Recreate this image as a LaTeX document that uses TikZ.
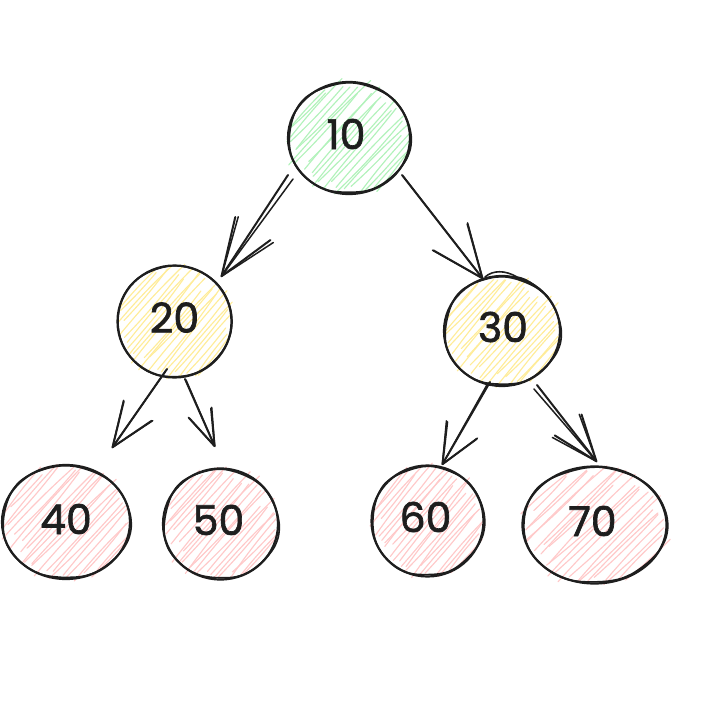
\documentclass[tikz,border=0pt]{standalone}
\usepackage{fontspec}
\setmainfont{Poppins}[FakeBold=1.6]
\usetikzlibrary{arrows.meta,shapes.geometric}
\definecolor{ink}{HTML}{1E1E1E}
\definecolor{mint}{HTML}{B2F2BB}
\definecolor{butter}{HTML}{FFEC99}
\definecolor{blush}{HTML}{FFC9C9}
\tikzset{
  bubble/.style={ellipse,draw=ink,line width=2.2pt,inner sep=0pt},
  inkline/.style={draw=ink,line width=1.6pt,line cap=round,line join=round},
  numeral/.style={font=\fontsize{41}{41}\selectfont,text=ink},
  hatch/.style={line width=1.15pt,line cap=round},
  link/.style={draw=ink,line width=2pt,line cap=round}
}
% name, cx, cy, rx, ry, colour, text, text dx, text dy
\newcommand\sketchnode[9]{%
  \pgfmathsetseed{#2*7}%
  \begin{scope}[shift={(#2,#3)},x=#4pt,y=-#5pt]
    \foreach \k in {-0.88,-0.72,...,0.92}{
      \pgfmathsetmacro\h{sqrt(1-\k*\k)}
      \pgfmathsetmacro\sa{-\h*(0.86+0.24*rnd)}
      \pgfmathsetmacro\sb{\h*(0.84+0.28*rnd)}
      \pgfmathsetmacro\sc{-\h*(0.70+0.32*rnd)}
      \pgfmathsetmacro\sd{\h*(0.70+0.34*rnd)}
      \pgfmathsetmacro\ja{0.05*rand}
      \pgfmathsetmacro\jb{0.05*rand}
      \pgfmathsetmacro\jc{0.04+0.05*rand}
      \pgfmathsetmacro\jd{0.04+0.05*rand}
      \draw[hatch,#6] ({(\k+\ja)*0.766+\sa*0.643},{(\k+\ja)*0.643-\sa*0.766}) to[bend left=3] ({(\k+\jb)*0.766+\sb*0.643},{(\k+\jb)*0.643-\sb*0.766});
      \draw[hatch,#6] ({(\k+\jc)*0.766+\sc*0.643},{(\k+\jc)*0.643-\sc*0.766}) to[bend right=3] ({(\k+\jd)*0.766+\sd*0.643},{(\k+\jd)*0.643-\sd*0.766});
    }
  \end{scope}
  \node[bubble,minimum width=#4*2pt,minimum height=#5*2pt,
        label={[numeral,xshift=#8pt,yshift=#9pt]center:#7}] (#1) at (#2,#3) {};
}
% cx, cy, rx, ry, phase, wobble
\newcommand\sketchstroke[6]{%
  \draw[inkline] plot[smooth,domain=#5:#5+385,samples=36,variable=\t]
    ({#1+#3*(1+#6*sin(3*\t+#5)+0.4*#6*sin(5*\t))*cos(\t)},
     {#2+#4*(1+#6*sin(2*\t+#5)+0.4*#6*sin(7*\t))*sin(\t)});
}
% from, to, start 1, start 2, tip, tip length, tip width
\newcommand\sketchedge[7]{%
  \pgfmathsetmacro\lenb{#6+1}%
  \pgfmathsetmacro\widb{#7+1.5}%
  \draw[link,-{Straight Barb[length=#6pt,width=#7pt,round]}]
    ([shift={(#3)}]#1.center) -- ([shift={(#5)}]#2.center);
  \draw[link,line width=1.5pt,-{Straight Barb[length=\lenb pt,width=\widb pt,round]}]
    ([shift={(#4)}]#1.center) -- ([shift={(#5)}]#2.center);
}
\begin{document}
\begin{tikzpicture}[x=1pt,y=-1pt]
  \useasboundingbox (0,0) rectangle (718,712);
  \sketchnode{n10}{349}{138}{61}{56}{mint}{10}{-3}{4}
  \sketchstroke{349}{138}{61}{56}{95}{0.022}
  \sketchnode{n20}{174.5}{321.5}{57}{56}{butter}{20}{0}{4}
  \sketchstroke{174.5}{321.5}{57}{56}{130}{0.012}
  \sketchnode{n30}{502}{331}{58}{55}{butter}{30}{1}{4}
  \sketchstroke{502}{331}{58}{55}{75}{0.024}
  \draw[inkline] (n30.center) ++(-17,-54) .. controls +(8,-7) and +(-12,-7) .. ++(32,0) .. controls +(12,2) and +(-10,-9) .. ++(31,20);
  \sketchnode{n40}{66}{522}{64}{57}{blush}{40}{0}{3}
  \sketchstroke{66}{522}{64}{57}{80}{0.02}
  \sketchnode{n50}{220.5}{524}{57.5}{55.5}{blush}{50}{-2}{4}
  \sketchstroke{220.5}{524}{57.5}{55.5}{65}{0.024}
  \sketchnode{n60}{427.5}{521}{56}{55.5}{blush}{60}{-2}{4}
  \sketchstroke{427.5}{521}{56}{55.5}{110}{0.026}
  \sketchnode{n70}{594.5}{525}{72}{58.5}{blush}{70}{-2}{4}
  \sketchstroke{594.5}{525}{72}{58.5}{120}{0.022}
  \sketchedge{n10}{n20}{-61,37}{-56,41}{46.5,-44.5}{57}{42}
  \sketchedge{n10}{n30}{53,37}{54,38}{-19,-52}{52}{43}
  \sketchedge{n20}{n40}{-7.5,47.5}{-9.5,50.5}{46,-74}{44}{34}
  \sketchedge{n20}{n50}{10.5,57.5}{11.5,58.5}{-5.5,-77}{36}{24}
  \sketchedge{n30}{n60}{-12,51}{-14,52}{14.5,-56}{39}{34}
  \sketchedge{n30}{n70}{35,54}{32,58}{2.5,-63}{46}{34}
\end{tikzpicture}
\end{document}
